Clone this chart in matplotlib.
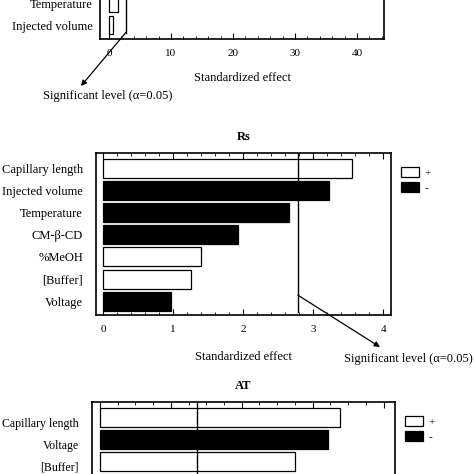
import matplotlib
matplotlib.use('Agg')
import matplotlib.pyplot as plt
from matplotlib.patches import Patch
from matplotlib.ticker import MultipleLocator
import matplotlib.transforms as mtransforms

plt.rcParams.update({'font.family': ['Liberation Serif', 'DejaVu Serif'], 'font.size': 9})

# top chart (only bottom rows visible)
top_labels = ['Temperature', 'Injected volume']
top_values = [1.45, 0.7]
top_sign = ['+', '+']

# Rs chart
rs_labels = ['Capillary length', 'Injected volume', 'Temperature', 'CM-\u03b2-CD',
             '%MeOH', '[Buffer]', 'Voltage']
rs_values = [3.56, 3.23, 2.66, 1.93, 1.40, 1.26, 0.97]
rs_sign = ['+', '-', '-', '-', '+', '+', '-']

# AT chart (only top rows visible)
at_labels = ['Capillary length', 'Voltage', '[Buffer]']
at_values = [3.38, 3.21, 2.75]
at_sign = ['+', '-', '+']

t_crit = 2.78
at_crit = 1.37

W = 474.0
fig = plt.figure(figsize=(4.74, 4.74), dpi=100)


def px(left, top, right, bottom):
    return [left / W, 1 - bottom / W, (right - left) / W, (bottom - top) / W]


def pareto(ax, labels, values, signs, height, ylim, xlim, major, minor, pad, lsize=9):
    colors = ['white' if s == '+' else 'black' for s in signs]
    ax.barh(range(len(values)), values, height=height, color=colors,
            edgecolor='black', linewidth=0.9, zorder=2)
    ax.set_ylim(*ylim)
    ax.set_xlim(*xlim)
    ax.set_yticks(range(len(labels)))
    ax.set_yticklabels(labels, fontsize=lsize)
    ax.tick_params(axis='y', length=0, pad=pad)
    ax.xaxis.set_major_locator(MultipleLocator(major))
    ax.xaxis.set_minor_locator(MultipleLocator(minor))
    ax.tick_params(axis='x', which='both', direction='in', top=True, bottom=True,
                   labelsize=8, pad=7.5)
    ax.tick_params(axis='x', which='major', length=4, width=0.8)
    ax.tick_params(axis='x', which='minor', length=2.5, width=0.6)
    for s in ax.spines.values():
        s.set_linewidth(1.2)


# ---- top panel
ax1 = fig.add_axes(px(100, -123, 384, 39))
pareto(ax1, top_labels, top_values, top_sign, 0.82, (1.636, -5.73), (-1.45, 44.35), 10, 2, 5.5)
ax1.axvline(t_crit, ymin=0.04, ymax=1, color='black', lw=1.0, zorder=3)
ax1.set_xlabel('Standardized effect', fontsize=9, labelpad=10)
ax1.annotate('', xy=(81 / W, 1 - 86 / W), xycoords='figure fraction',
             xytext=(t_crit, 1.32), textcoords='data',
             arrowprops=dict(arrowstyle='-|>', color='black', lw=0.9,
                             mutation_scale=8, shrinkA=0, shrinkB=0))
fig.text(43 / W, 1 - 96 / W, 'Significant level (\u03b1=0.05)', fontsize=9,
         ha='left', va='center')

# ---- Rs panel
ax2 = fig.add_axes(px(96, 152.7, 391, 315))
pareto(ax2, rs_labels, rs_values, rs_sign, 0.86, (6.63, -0.72), (-0.1, 4.11), 1, 0.2, 9.4)
ax2.axvline(t_crit, ymin=0.02, ymax=1, color='black', lw=1.0, zorder=3)
ax2.set_title('Rs', fontsize=9, fontweight='bold', pad=9)
ax2.set_xlabel('Standardized effect', fontsize=9, labelpad=12)
ax2.annotate('', xy=(380 / W, 1 - 347 / W), xycoords='figure fraction',
             xytext=(t_crit, 5.73), textcoords='data',
             arrowprops=dict(arrowstyle='-|>', color='black', lw=0.9,
                             mutation_scale=8, shrinkA=0, shrinkB=0))
fig.text(344 / W, 1 - 359 / W, 'Significant level (\u03b1=0.05)', fontsize=8.9,
         ha='left', va='center')

# ---- AT panel
ax3 = fig.add_axes(px(92, 402, 395, 564))
pareto(ax3, at_labels, at_values, at_sign, 0.86, (6.66, -0.70), (-0.11, 4.16), 1, 0.25, 9.5, lsize=8.6)
ax3.tick_params(axis='x', labelbottom=False)
ax3.axvline(at_crit, color='black', lw=1.0, zorder=3)
ax3.set_title('AT', fontsize=9, fontweight='bold', pad=9)
shift = mtransforms.ScaledTranslation(0, -3.5 / 72, fig.dpi_scale_trans)
for lbl in ax3.get_yticklabels():
    lbl.set_transform(lbl.get_transform() + shift)

# legends
handles = [Patch(facecolor='white', edgecolor='black', linewidth=0.9, label='+'),
           Patch(facecolor='black', edgecolor='black', linewidth=0.9, label='-')]
for anchor in [(401, 167), (405, 416)]:
    fig.legend(handles=handles, loc='upper left',
               bbox_to_anchor=(anchor[0] / W, 1 - anchor[1] / W),
               frameon=False, fontsize=8, handlelength=1.6, handleheight=1.0,
               handletextpad=0.5, labelspacing=0.4, borderpad=0, borderaxespad=0)

fig.savefig('out.png', dpi=100)
